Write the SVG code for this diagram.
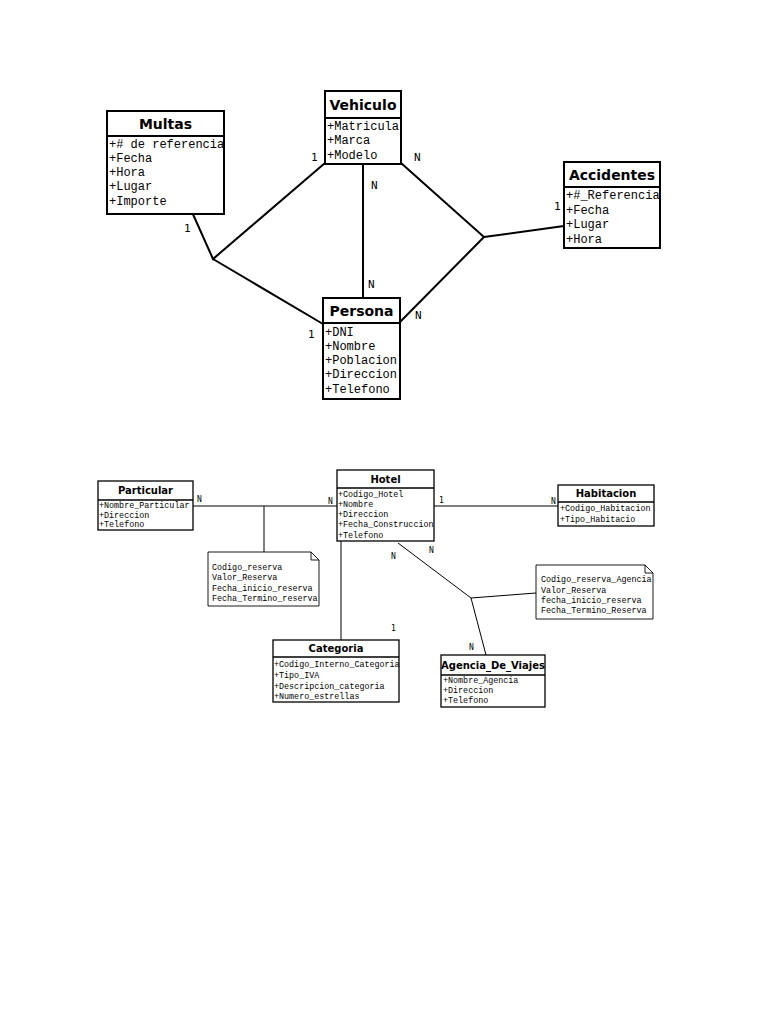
<svg xmlns="http://www.w3.org/2000/svg" width="768" height="1024" viewBox="0 0 768 1024">
<style>
.bg{fill:#fff}
.box{fill:#fff;stroke:#000;stroke-width:2}
.sbox{fill:#fff;stroke:#000;stroke-width:1.3}
.note{fill:#fff;stroke:#000;stroke-width:0.9}
.h{font-family:"DejaVu Sans",Verdana,sans-serif;font-weight:bold;font-size:14px;text-anchor:middle;fill:#000}
.hs{font-family:"DejaVu Sans",Verdana,sans-serif;font-weight:bold;font-size:10px;text-anchor:middle;fill:#000}
.a{font-family:"Liberation Mono","Courier New",monospace;font-size:12px;fill:#000}
.as{font-family:"Liberation Mono","Courier New",monospace;font-size:8.4px;fill:#000}
.lbl{font-family:"DejaVu Sans Mono","Liberation Mono",monospace;font-size:11px;fill:#000}
.lbls{font-family:"DejaVu Sans Mono","Liberation Mono",monospace;font-size:8px;fill:#000}
.c{fill:none;stroke:#000;stroke-width:2}
.cs{fill:none;stroke:#000;stroke-width:1}
</style>
<rect class="bg" x="0" y="0" width="768" height="1024"/>
<g id="connectors">
<polyline class="c" points="192,212 213,259 325,163"/>
<line class="c" x1="213" y1="259" x2="323" y2="324"/>
<line class="c" x1="363" y1="164" x2="363" y2="298"/>
<polyline class="c" points="401,163 484,237 400,322"/>
<line class="c" x1="484" y1="237" x2="564" y2="226"/>
<line class="cs" x1="193" y1="506" x2="337" y2="506"/>
<line class="cs" x1="264" y1="506" x2="264" y2="552"/>
<line class="cs" x1="434" y1="506" x2="558" y2="506"/>
<line class="cs" x1="341" y1="541" x2="341" y2="640"/>
<polyline class="cs" points="398,543 471,598 486,655"/>
<line class="cs" x1="471" y1="598" x2="536" y2="593"/>
</g>
<g id="labels">
<text class="lbl" x="311" y="161">1</text>
<text class="lbl" x="414" y="161">N</text>
<text class="lbl" x="371" y="189">N</text>
<text class="lbl" x="368" y="288">N</text>
<text class="lbl" x="184" y="232">1</text>
<text class="lbl" x="308" y="338">1</text>
<text class="lbl" x="415" y="319">N</text>
<text class="lbl" x="554" y="210">1</text>
<text class="lbls" x="197" y="502">N</text>
<text class="lbls" x="328" y="504">N</text>
<text class="lbls" x="439" y="503">1</text>
<text class="lbls" x="551" y="504">N</text>
<text class="lbls" x="391" y="559">N</text>
<text class="lbls" x="429" y="553">N</text>
<text class="lbls" x="391" y="631">1</text>
<text class="lbls" x="469" y="650">N</text>
</g>
<g id="multas">
<rect class="box" x="107" y="111" width="117" height="103"/>
<line class="c" x1="107" y1="136" x2="224" y2="136"/>
<text class="h" x="165.5" y="129">Multas</text>
<text class="a" x="109" y="148">+# de referencia</text>
<text class="a" x="109" y="162">+Fecha</text>
<text class="a" x="109" y="176">+Hora</text>
<text class="a" x="109" y="190">+Lugar</text>
<text class="a" x="109" y="205">+Importe</text>
</g>
<g id="vehiculo">
<rect class="box" x="325" y="91" width="76" height="73"/>
<line class="c" x1="325" y1="118" x2="401" y2="118"/>
<text class="h" x="363" y="110">Vehiculo</text>
<text class="a" x="327" y="130">+Matricula</text>
<text class="a" x="327" y="144">+Marca</text>
<text class="a" x="327" y="159">+Modelo</text>
</g>
<g id="accidentes">
<rect class="box" x="564" y="162" width="96" height="86"/>
<line class="c" x1="564" y1="187" x2="660" y2="187"/>
<text class="h" x="612" y="180">Accidentes</text>
<text class="a" x="566" y="199">+#_Referencia</text>
<text class="a" x="566" y="214">+Fecha</text>
<text class="a" x="566" y="228">+Lugar</text>
<text class="a" x="566" y="243">+Hora</text>
</g>
<g id="persona">
<rect class="box" x="323" y="298" width="77" height="101"/>
<line class="c" x1="323" y1="323" x2="400" y2="323"/>
<text class="h" x="361.5" y="316">Persona</text>
<text class="a" x="325" y="336">+DNI</text>
<text class="a" x="325" y="350">+Nombre</text>
<text class="a" x="325" y="364">+Poblacion</text>
<text class="a" x="325" y="378">+Direccion</text>
<text class="a" x="325" y="393">+Telefono</text>
</g>
<g id="particular">
<rect class="sbox" x="98" y="481" width="95" height="49"/>
<line class="sbox" x1="98" y1="500" x2="193" y2="500"/>
<text class="hs" x="145.5" y="494">Particular</text>
<text class="as" x="99" y="508">+Nombre_Particular</text>
<text class="as" x="99" y="518">+Direccion</text>
<text class="as" x="99" y="527">+Telefono</text>
</g>
<g id="hotel">
<rect class="sbox" x="337" y="470" width="97" height="71"/>
<line class="sbox" x1="337" y1="488" x2="434" y2="488"/>
<text class="hs" x="385.5" y="483">Hotel</text>
<text class="as" x="338" y="497">+Codigo_Hotel</text>
<text class="as" x="338" y="507">+Nombre</text>
<text class="as" x="338" y="517">+Direccion</text>
<text class="as" x="338" y="527">+Fecha_Construccion</text>
<text class="as" x="338" y="538">+Telefono</text>
</g>
<g id="habitacion">
<rect class="sbox" x="558" y="485" width="96" height="41"/>
<line class="sbox" x1="558" y1="502" x2="654" y2="502"/>
<text class="hs" x="606" y="497">Habitacion</text>
<text class="as" x="560" y="511">+Codigo_Habitacion</text>
<text class="as" x="560" y="522">+Tipo_Habitacio</text>
</g>
<g id="nota-particular">
<path class="note" d="M208,552 H311 L319,560 V606 H208 Z M311,552 V560 H319"/>
<text class="as" x="212" y="570">Codigo_reserva</text>
<text class="as" x="212" y="580">Valor_Reserva</text>
<text class="as" x="212" y="591">Fecha_inicio_reserva</text>
<text class="as" x="212" y="601">Fecha_Termino_reserva</text>
</g>
<g id="nota-agencia">
<path class="note" d="M536,565 H645 L653,573 V619 H536 Z M645,565 V573 H653"/>
<text class="as" x="541" y="582">Codigo_reserva_Agencia</text>
<text class="as" x="541" y="593">Valor_Reserva</text>
<text class="as" x="541" y="603">fecha_inicio_reserva</text>
<text class="as" x="541" y="613">Fecha_Termino_Reserva</text>
</g>
<g id="categoria">
<rect class="sbox" x="273" y="640" width="126" height="62"/>
<line class="sbox" x1="273" y1="657" x2="399" y2="657"/>
<text class="hs" x="336" y="652">Categoria</text>
<text class="as" x="274" y="667">+Codigo_Interno_Categoria</text>
<text class="as" x="274" y="678">+Tipo_IVA</text>
<text class="as" x="274" y="689">+Descripcion_categoria</text>
<text class="as" x="274" y="699">+Numero_estrellas</text>
</g>
<g id="agencia">
<rect class="sbox" x="441" y="655" width="104" height="52"/>
<line class="sbox" x1="441" y1="675" x2="545" y2="675"/>
<text class="hs" x="493" y="669">Agencia_De_Viajes</text>
<text class="as" x="443" y="683">+Nombre_Agencia</text>
<text class="as" x="443" y="693">+Direccion</text>
<text class="as" x="443" y="703">+Telefono</text>
</g>
</svg>
